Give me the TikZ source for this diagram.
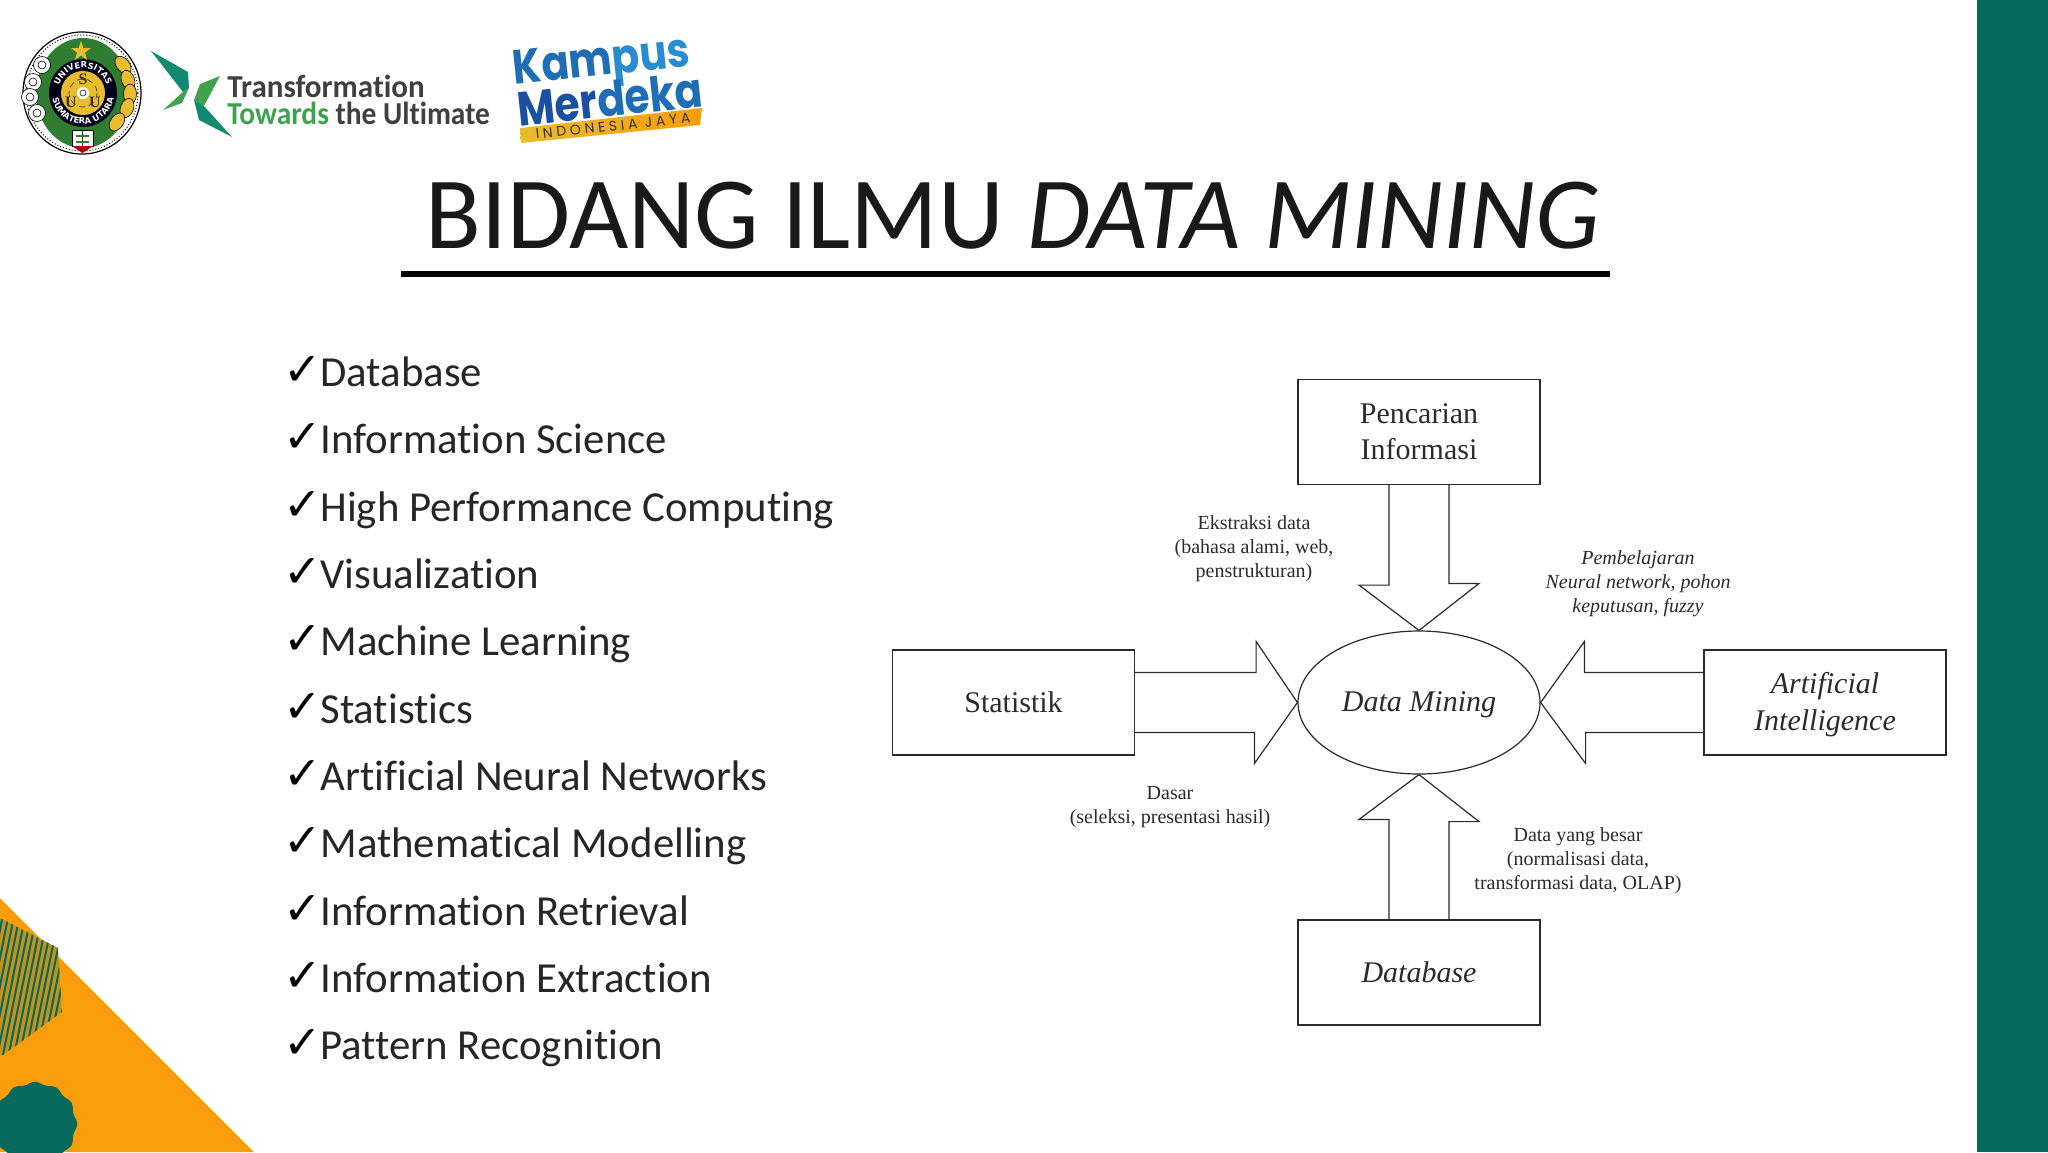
\documentclass[tikz,border=0pt]{standalone}
\usepackage{fontspec}
\setmainfont{Carlito}[Ligatures=NoCommon]
\newfontfamily\serifdiag{Liberation Serif}
\newfontfamily\tickfont{DejaVu Sans}
\newfontfamily\logofont{Poppins}
\usetikzlibrary{positioning,shapes.geometric,decorations.text}
\definecolor{slideteal}{HTML}{05695C}
\definecolor{slideorange}{HTML}{F99D0B}
\definecolor{logogreen}{HTML}{3FA34D}
\definecolor{logoteal}{HTML}{128A72}
\definecolor{sealgreen}{HTML}{2F7D32}
\definecolor{sealgold}{HTML}{E9BC2E}
\definecolor{kampusblue}{HTML}{1F6DB5}
\definecolor{kampuslight}{HTML}{2A8CD0}
\definecolor{merdekablue}{HTML}{1B4FA0}
\definecolor{inkgrey}{HTML}{2B2B2B}
\begin{document}
\begin{tikzpicture}[
  x=0.5pt, y=-0.5pt,
  lineitem/.style={anchor=base west,inner sep=0pt,font=\fontsize{21.4}{24}\selectfont,text=black!85},
  tickmark/.style={anchor=base west,inner sep=0pt,font=\tickfont\fontsize{23}{24}\selectfont},
  diagbox/.style={draw=inkgrey,line width=0.6pt,fill=white,align=center,minimum width=121pt,minimum height=52.5pt,inner sep=0pt,
    text=inkgrey,font=\serifdiag\fontsize{15}{18.2}\selectfont},
  diagital/.style={diagbox,font=\serifdiag\itshape\fontsize{15}{18.2}\selectfont},
  diagoval/.style={diagital,ellipse,minimum height=71.5pt},
  diagnote/.style={align=center,inner sep=0pt,text=inkgrey,font=\serifdiag\fontsize{10}{12}\selectfont},
  blockarr/.style={draw=inkgrey,line width=0.6pt},
  sealmark/.style={inner sep=0pt,text=black!80,font=\serifdiag\bfseries\fontsize{8}{8}\selectfont},
  logoword/.style={anchor=base west,inner sep=0pt,text=black!75,font=\fontsize{16}{18}\bfseries\selectfont},
  kampusword/.style={rotate=6,inner sep=0pt,xscale=0.85,font=\logofont\bfseries\fontsize{24}{24}\selectfont},
]
\useasboundingbox (0,0) rectangle (2048,1152);
\fill[white] (0,0) rectangle (2048,1152);
% slide decoration
\fill[slideteal] (1977,0) rectangle (2048,1152);
\fill[slideorange] (0,898) -- (254,1152) -- (0,1152) -- cycle;
\begin{scope}
\clip (0,918) -- (58,948) -- (62,1012) -- (3,1055) -- (0,1055) -- cycle;
\fill[slideorange!80!slideteal] (0,900) rectangle (70,1060);
\foreach \hx in {-24,-18.4,...,96}
  \draw[slideteal,line width=1pt] (\hx,910) -- ++(-30,150);
\end{scope}
\begin{scope}
\clip (0,1060) rectangle (100,1152);
\fill[slideteal] plot[domain=0:354,samples=60,smooth cycle] ({35+(41+1.3*cos(12*\x))*cos(\x)},{1124+(41+1.3*cos(12*\x))*sin(\x)});
\end{scope}
% university seal
\draw[black,fill=white,line width=0.6pt] (82,93) ellipse (59 and 61);
\draw[black,densely dotted,line width=0.5pt] (82,93) ellipse (56 and 58);
\fill[sealgreen] (83,93) ellipse (47 and 55);
\foreach \cx/\cy in {42/65,33/82,30/97,37/113}{
  \fill[white,draw=black,line width=0.3pt] (\cx,\cy) circle (8.5);
  \draw[black,line width=0.3pt] (\cx,\cy) circle (4);
}
\foreach \rx/\ry/\ra in {123/65/-50,128/80/-70,130/94/-90,127/108/-110,117/122/-125}
  \fill[sealgold,draw=black,line width=0.3pt,rotate around={\ra:(\rx,\ry)}] (\rx,\ry) ellipse (10 and 6.5);
\fill[black!90!blue] (83,93) circle (34);
\fill[sealgold] (83,93) circle (22);
\draw[black!70,densely dashed,line width=0.4pt] (83,93) circle (14);
\fill[white] (83,93) circle (6);
\draw[black!70,line width=0.4pt] (83,93) circle (3);
\node[sealmark] (seals) at (83,79) {S};
\node[sealmark] (sealu) at (71,102) {U};
\node[sealmark] (sealv) at (95,102) {U};
\path[decorate,decoration={text along path,text align=center,text={|\tickfont\bfseries\fontsize{4.2}{4.2}\selectfont\color{white}|UNIVERSITAS}}]
  (58,93) arc[start angle=180,end angle=360,x radius=25,y radius=25];
\path[decorate,decoration={text along path,text align=center,text={|\tickfont\bfseries\fontsize{4.2}{4.2}\selectfont\color{white}|SUMATERA UTARA}}]
  (52,93) arc[start angle=180,end angle=360,x radius=31,y radius=-31];
\fill[sealgold] (81,41) -- (83.5,48) -- (91,48) -- (85,52.5) -- (87,60) -- (81,55.5) -- (75,60) -- (77,52.5) -- (71,48) -- (78.5,48) -- cycle;
\fill[white,draw=black,line width=0.3pt] (72,130) rectangle (93,146);
\fill[red!70!black] (72,146) -- (93,146) -- (82.5,153) -- cycle;
\draw[red!70!black,line width=0.9pt] (82.5,131) -- (82.5,146);
\draw[sealgreen,line width=0.8pt] (76,136) -- (89,136) (76,142) -- (89,142);
% transformation logo
\fill[logoteal] (151,51) -- (188,72) -- (189,88) -- (183,92) -- cycle;
\fill[logogreen] (183,92) -- (189,88) -- (182,103) -- (163,110) -- cycle;
\fill[logogreen] (220,76) -- (200,84) -- (194,100) -- (204,106) -- cycle;
\fill[logoteal] (194,100) -- (204,106) -- (232,137) -- (199,120) -- cycle;
\node[logoword,xscale=0.97] (trf) at (227,97) {Transformation};
\node[logoword,xscale=0.92] (twd) at (227,124) {\textcolor{logogreen}{Towards} the Ultimate};
% kampus merdeka logo
\shade[left color=sealgold,right color=slideorange] (520,128) -- (702,108) -- (700,125) -- (521,143) -- cycle;
\node[kampusword] (kps) at (602,65) {\textcolor{kampusblue}{Kam}\textcolor{kampuslight}{pus}};
\node[kampusword] (mdk) at (610,99) {\textcolor{merdekablue}{Mer}\textcolor{kampusblue}{deka}};
\node[rotate=6,inner sep=0pt,text=black!80,font=\logofont\fontsize{7}{7}\selectfont] (ijy) at (613,126) {I N D O N E S I A\ \ J A Y A};
% title
\node[inner sep=0pt,text=black!90,font=\fontsize{51.2}{54}\selectfont] (title) at (1013,216) {BIDANG ILMU \emph{DATA MINING}};
\draw[black,line width=2.6pt] (401,274) -- (1610,274);
% list
\node[tickmark] (t1) at (283,385) {✓};
\node[tickmark] (t2) at (283,452) {✓};
\node[tickmark] (t3) at (283,520) {✓};
\node[tickmark] (t4) at (283,587) {✓};
\node[tickmark] (t5) at (283,654) {✓};
\node[tickmark] (t6) at (283,722) {✓};
\node[tickmark] (t7) at (283,789) {✓};
\node[tickmark] (t8) at (283,856) {✓};
\node[tickmark] (t9) at (283,924) {✓};
\node[tickmark] (t10) at (283,991) {✓};
\node[tickmark] (t11) at (283,1058) {✓};
\node[lineitem] (i1) at (320,386.5) {Database};
\node[lineitem] (i2) at (320,453.5) {Information Science};
\node[lineitem] (i3) at (320,521.5) {High Performance Computing};
\node[lineitem] (i4) at (320,588.5) {Visualization};
\node[lineitem] (i5) at (320,655.5) {Machine Learning};
\node[lineitem] (i6) at (320,723.5) {Statistics};
\node[lineitem] (i7) at (320,790.5) {Artificial Neural Networks};
\node[lineitem] (i8) at (320,857.5) {Mathematical Modelling};
\node[lineitem] (i9) at (320,925.5) {Information Retrieval};
\node[lineitem] (i10) at (320,992.5) {Information Extraction};
\node[lineitem] (i11) at (320,1059.5) {Pattern Recognition};
% diagram
\node[diagbox] (pen) at (1419,432) {Pencarian\\Informasi};
\node[diagbox] (sta) at (1013.5,702.5) {Statistik};
\node[diagital] (art) at (1825,702.5) {\rule{0pt}{12.5pt}Artificial\\Intelligence};
\node[diagital] (dbs) at (1419,972.5) {Database};
\node[diagoval] (dm) at (1419,702.5) {\rule{0pt}{12.5pt}Data Mining};
\draw[blockarr] ([xshift=-15pt]pen.south) -- ++(0,100) -- ++(-30,0) -- (dm.north) -- ++(60,-47) -- ++(-30,0) -- ([xshift=15pt]pen.south);
\draw[blockarr] ([yshift=15pt]sta.east) -- ++(121,0) -- ++(0,-31) -- (dm.west) -- ++(-43,61) -- ++(0,-31) -- ([yshift=-15pt]sta.east);
\draw[blockarr] ([yshift=15pt]art.west) -- ++(-119,0) -- ++(0,-31) -- (dm.east) -- ++(45,61) -- ++(0,-31) -- ([yshift=-15pt]art.west);
\draw[blockarr] ([xshift=-15pt]dbs.north) -- ++(0,-100) -- ++(-30,0) -- (dm.south) -- ++(60,47) -- ++(-30,0) -- ([xshift=15pt]dbs.north);
\node[diagnote] (nek) at (1254,548.5) {Ekstraksi data\\(bahasa alami, web,\\penstrukturan)};
\node[diagnote,font=\serifdiag\itshape\fontsize{10}{12}\selectfont] (npb) at (1638,583.5) {Pembelajaran\\Neural network, pohon\\keputusan, fuzzy};
\node[diagnote] (nds) at (1170,807.5) {Dasar\\(seleksi, presentasi hasil)};
\node[diagnote] (ndt) at (1578,860.5) {Data yang besar\\(normalisasi data,\\transformasi data, OLAP)};
\end{tikzpicture}
\end{document}
